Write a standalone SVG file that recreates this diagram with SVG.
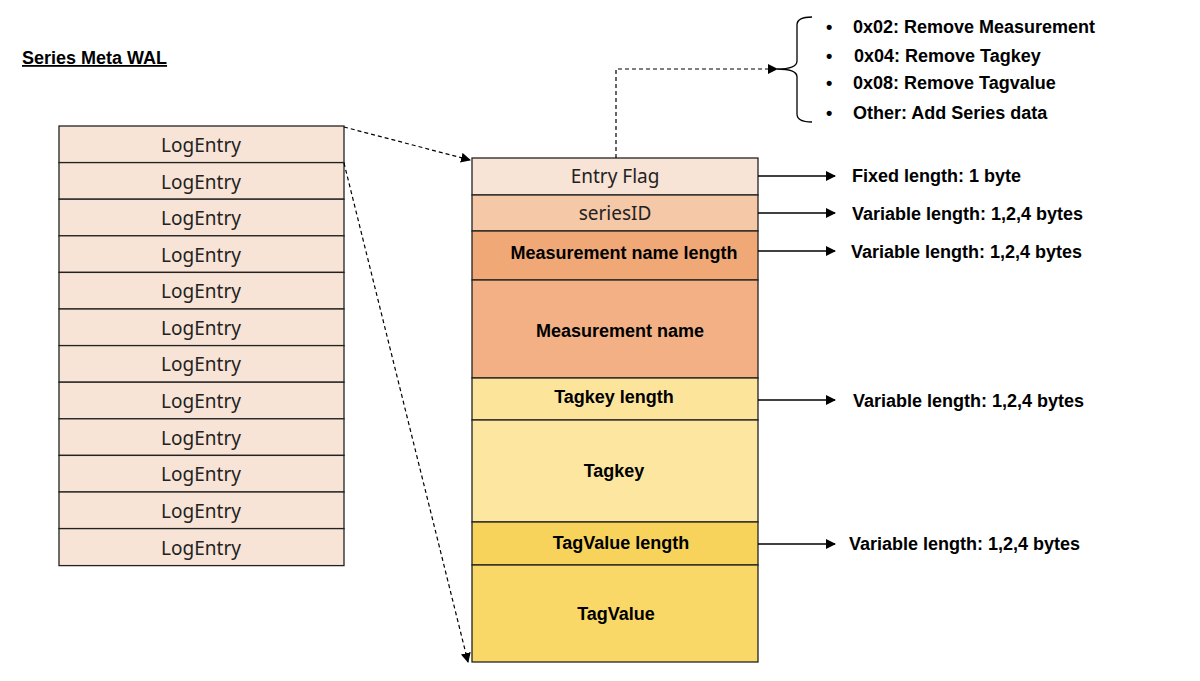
<svg xmlns="http://www.w3.org/2000/svg" width="1200" height="681" viewBox="0 0 1200 681">
<style>
.log{fill:#f8e4d6;stroke:#222;stroke-width:1.3}
.lt{font-family:"Microsoft YaHei","Noto Sans",sans-serif;font-size:19px;fill:#222;text-anchor:middle}
.seg{stroke:#222;stroke-width:1.3}
.b{font-family:"Liberation Sans",Arial,sans-serif;font-size:18px;font-weight:bold;fill:#000}
.bc{text-anchor:middle}
.n{font-family:"Liberation Sans",Arial,sans-serif;font-size:20px;fill:#222;text-anchor:middle}
.ar{stroke:#000;stroke-width:1.3;fill:none}
.dash{stroke:#000;stroke-width:1.2;fill:none;stroke-dasharray:4 3}
</style>
<defs><marker id="ah" markerWidth="10" markerHeight="10" refX="9" refY="5" orient="auto" markerUnits="userSpaceOnUse"><path d="M0,0 L10,5 L0,10 Z" fill="#000"/></marker></defs>
<text x="22" y="64" class="b" style="text-decoration:underline">Series Meta WAL</text>
<g id="log">
<rect class="log" x="59" y="126" width="285" height="36.6"/><text class="lt" x="201" y="152">LogEntry</text>
<rect class="log" x="59" y="162.6" width="285" height="36.6"/><text class="lt" x="201" y="189">LogEntry</text>
<rect class="log" x="59" y="199.2" width="285" height="36.6"/><text class="lt" x="201" y="225">LogEntry</text>
<rect class="log" x="59" y="235.8" width="285" height="36.6"/><text class="lt" x="201" y="262">LogEntry</text>
<rect class="log" x="59" y="272.4" width="285" height="36.6"/><text class="lt" x="201" y="298">LogEntry</text>
<rect class="log" x="59" y="309" width="285" height="36.6"/><text class="lt" x="201" y="335">LogEntry</text>
<rect class="log" x="59" y="345.6" width="285" height="36.6"/><text class="lt" x="201" y="371">LogEntry</text>
<rect class="log" x="59" y="382.2" width="285" height="36.6"/><text class="lt" x="201" y="408">LogEntry</text>
<rect class="log" x="59" y="418.8" width="285" height="36.6"/><text class="lt" x="201" y="445">LogEntry</text>
<rect class="log" x="59" y="455.4" width="285" height="36.6"/><text class="lt" x="201" y="481">LogEntry</text>
<rect class="log" x="59" y="492" width="285" height="36.6"/><text class="lt" x="201" y="518">LogEntry</text>
<rect class="log" x="59" y="528.6" width="285" height="37"/><text class="lt" x="201" y="555">LogEntry</text>
</g>
<g id="entry">
<rect class="seg" fill="#f8e4d6" x="472" y="158" width="286" height="37"/><text class="lt" x="615" y="183">Entry Flag</text>
<rect class="seg" fill="#f5c8a8" x="472" y="195" width="286" height="36"/><text class="lt" x="615" y="220">seriesID</text>
<rect class="seg" fill="#f0a877" x="472" y="231" width="286" height="49"/><text class="b bc" x="624" y="259">Measurement name length</text>
<rect class="seg" fill="#f3b085" x="472" y="280" width="286" height="98"/><text class="b bc" x="620" y="337">Measurement name</text>
<rect class="seg" fill="#fce59a" x="472" y="378" width="286" height="42"/><text class="b bc" x="614" y="403">Tagkey length</text>
<rect class="seg" fill="#fde6a0" x="472" y="420" width="286" height="102"/><text class="b bc" x="614" y="477">Tagkey</text>
<rect class="seg" fill="#f8d35b" x="472" y="522" width="286" height="43"/><text class="b bc" x="621" y="549">TagValue length</text>
<rect class="seg" fill="#f9d867" x="472" y="565" width="286" height="97"/><text class="b bc" x="616" y="620">TagValue</text>
</g>
<g id="connectors">
<path class="dash" d="M344,127 L470,160" marker-end="url(#ah)"/>
<path class="dash" d="M344,163 L468,662" marker-end="url(#ah)"/>
<path class="dash" d="M616,158 V69 H777" marker-end="url(#ah)"/>
<path class="ar" d="M758,176 H835" marker-end="url(#ah)"/>
<path class="ar" d="M758,213 H835" marker-end="url(#ah)"/>
<path class="ar" d="M758,251 H835" marker-end="url(#ah)"/>
<path class="ar" d="M758,400 H835" marker-end="url(#ah)"/>
<path class="ar" d="M758,544 H835" marker-end="url(#ah)"/>
<path class="ar" d="M812,17 Q797,17 797,25 V61 Q797,69 777,69 Q797,69 797,77 V114 Q797,122 812,122"/>
</g>
<g id="labels">
<text class="b" x="852" y="182">Fixed length: 1 byte</text>
<text class="b" x="852" y="220">Variable length: 1,2,4 bytes</text>
<text class="b" x="851" y="258">Variable length: 1,2,4 bytes</text>
<text class="b" x="853" y="407">Variable length: 1,2,4 bytes</text>
<text class="b" x="849" y="550">Variable length: 1,2,4 bytes</text>
<text class="b" x="826" y="33">•</text><text class="b" x="853" y="33">0x02:  Remove Measurement</text>
<text class="b" x="826" y="62">•</text><text class="b" x="854" y="62">0x04:  Remove Tagkey</text>
<text class="b" x="826" y="89">•</text><text class="b" x="853" y="89">0x08:  Remove Tagvalue</text>
<text class="b" x="826" y="119">•</text><text class="b" x="853" y="119">Other:  Add Series data</text>
</g>
</svg>
